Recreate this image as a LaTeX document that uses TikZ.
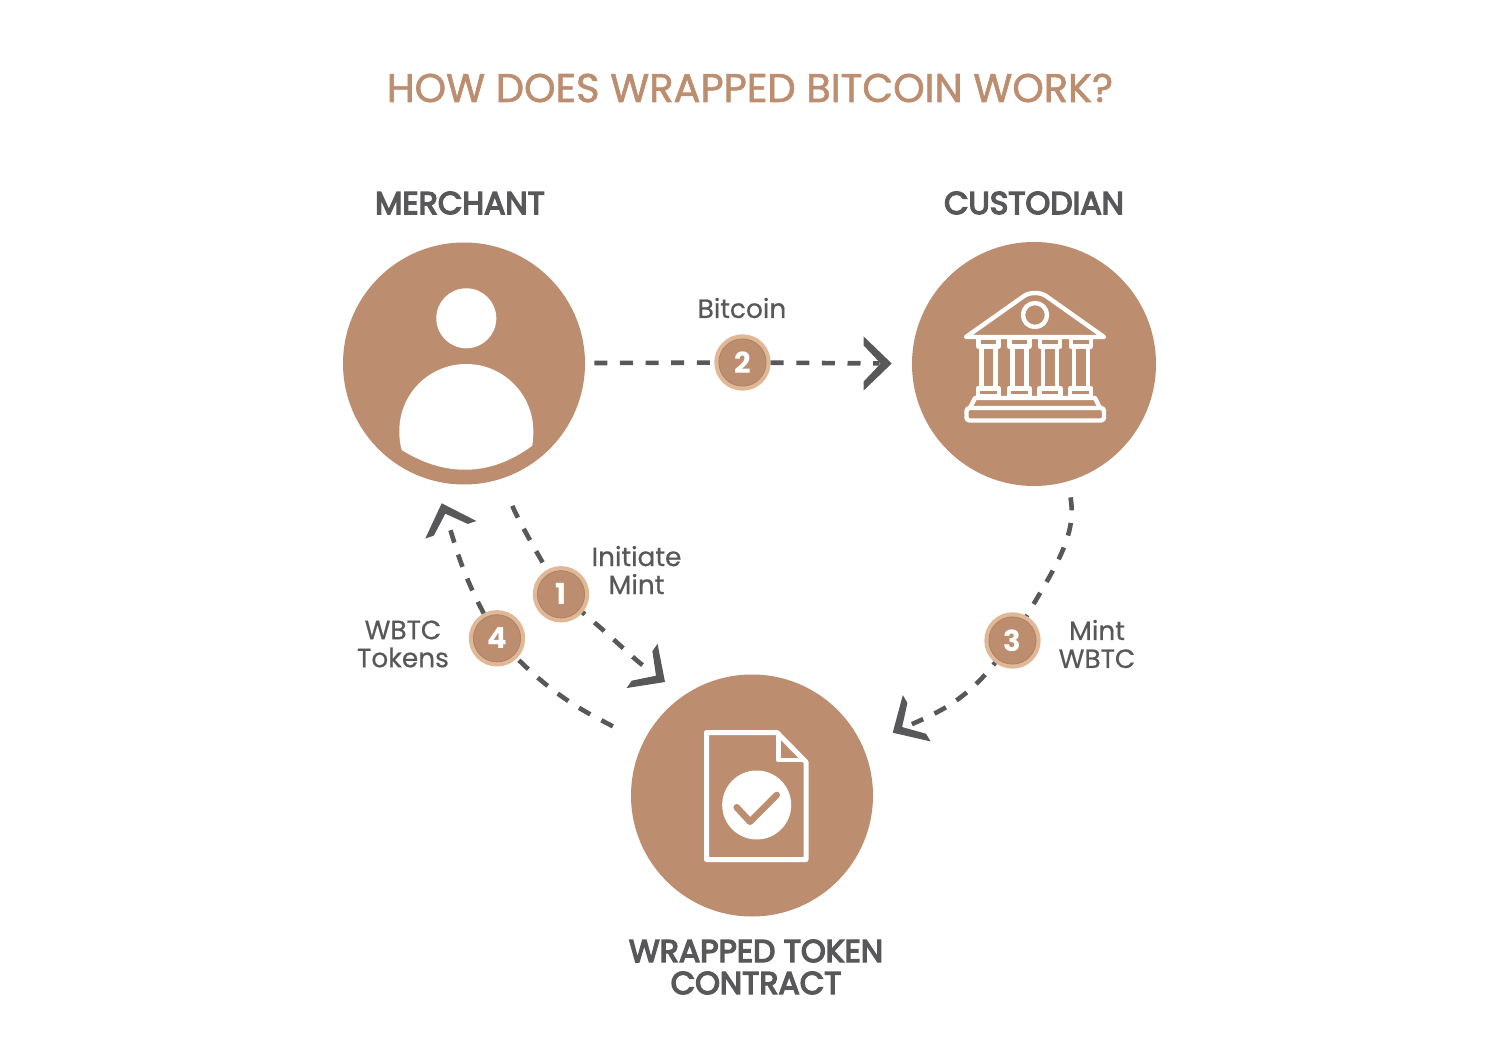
\documentclass[tikz,border=0pt]{standalone}
\usepackage{fontspec}
\setmainfont{Poppins}
\newfontfamily\medfont[FakeBold=0.6]{Poppins}
\newfontfamily\titlefont[FakeBold=1.6]{Poppins}
\newfontfamily\headfont[FakeBold=4.5]{Poppins}
\usetikzlibrary{positioning,calc}
\definecolor{tan}{HTML}{BC8E6F}
\definecolor{lighttan}{HTML}{E0B896}
\definecolor{darktan}{HTML}{AE8263}
\definecolor{slate}{HTML}{58585A}
\begin{document}
\begin{tikzpicture}[x=0.5pt,y=-0.5pt,
  bigcirc/.style={circle,fill=tan,minimum size=121pt,inner sep=0pt},
  badge/.style={circle,fill=tan,draw=lighttan,line width=2.2pt,minimum size=26pt,inner sep=0pt,text=white,font=\bfseries\fontsize{14.5}{15}\selectfont},
  heading/.style={text=slate,align=center,font=\headfont\fontsize{15.8}{16}\selectfont},
  lab/.style={text=slate,align=center,font=\medfont\fontsize{13.2}{14}\selectfont},
  flowline/.style={draw=slate,line width=2.3pt,dash pattern=on 6.5pt off 6.3pt},
  icon/.style={draw=white,line width=2.2pt,line join=round},
  chevron/.pic={\fill[slate] (0,0) -- (-28,-27) -- (-28,-18) -- (-11,0) -- (-28,18) -- (-28,27) -- cycle;}]
\useasboundingbox (0,0) rectangle (1500,1064);
\node[text=tan,font=\titlefont\fontsize{20}{20}\selectfont] (title) at (750,88) {HOW DOES WRAPPED BITCOIN WORK?};
\node[bigcirc] (merchant) at (464,363.5) {};
\node[bigcirc,minimum size=122pt] (custodian) at (1034,364) {};
\node[bigcirc] (contract) at (752,795.5) {};
\node[heading] (merchantlab) at (460,203) {MERCHANT};
\node[heading] (custodianlab) at (1034,203) {CUSTODIAN};
\node[heading] (contractlab) at (756,967) {WRAPPED TOKEN\\CONTRACT};
\node[badge] (one) at (561,594.3) {1};
\node[badge] (two) at (742.5,362.5) {2};
\node[badge] (three) at (1012.5,640.5) {3};
\node[badge] (four) at (497,638.3) {4};
\foreach \b in {one,two,three,four}
  \draw[darktan,line width=0.4pt] (\b) circle[radius=23.6];
\node[lab] (onelab) at (636.5,570) {Initiate\\Mint};
\node[lab] (twolab) at (742,308) {Bitcoin};
\node[lab] (threelab) at (1097,644) {Mint\\WBTC};
\node[lab] (fourlab) at (403,644) {WBTC\\Tokens};
\coordinate (tipone) at (665,682);
\coordinate (tiptwo) at (891.7,363.5);
\coordinate (tipthree) at (892.7,732.7);
\coordinate (tipfour) at (441.7,503.3);
\draw[flowline,shorten <=14.5pt] (merchant.-72) to[out=-68,in=120] (one);
\draw[flowline,dash phase=5pt,shorten >=14pt] (one) to[out=-40,in=143] (tipone);
\draw[flowline,shorten <=4.5pt] (merchant) -- (two);
\draw[flowline,shorten >=6pt] (two) -- (tiptwo);
\draw[flowline,shorten <=8pt] (custodian.-74) to[out=-80,in=60] (three);
\draw[flowline,dash phase=5pt,shorten >=10.5pt] (three) to[out=-128,in=24] (tipthree);
\draw[flowline,shorten <=17pt] (contract.154) to[out=152,in=-45] (four);
\draw[flowline,shorten >=14pt] (four) to[out=118,in=-72] (tipfour);
\pic[rotate=-35] at (tipone) {chevron};
\pic at (tiptwo) {chevron};
\pic[rotate=211] at (tipthree) {chevron};
\pic[rotate=109] at (tipfour) {chevron};
\fill[white] (466.3,318.3) circle[radius=30];
\fill[white] (401.7,450) .. controls (445,477) and (490,477) .. (532.3,445.7) .. controls (533,441) and (533.3,436) .. (533.3,431) .. controls (533.3,394) and (503,364) .. (466.3,364) .. controls (429,364) and (399.3,394) .. (399.3,431) .. controls (399.3,438) and (400,444) .. (401.7,450) -- cycle;
\draw[icon] (966,337) -- (1024,296) .. controls (1030,292) and (1040,292) .. (1046,296) -- (1104,337) -- cycle;
\draw[icon] (1035,315) circle[radius=12];
\foreach \c in {988.3,1019.3,1050,1080.7}{
  \draw[icon] (\c-10,338) rectangle (\c+10,346.5);
  \draw[icon] (\c-7,346.5) -- (\c-7,388.5) (\c+7,346.5) -- (\c+7,388.5);
  \draw[icon] (\c-10.5,388.5) rectangle (\c+10.5,396.5);
}
\draw[icon] (970,408) -- (975,398) -- (1095,398) -- (1100,408);
\draw[icon,rounded corners=1.5pt] (966.5,408) rectangle (1104,420.5);
\draw[icon,line width=2.5pt] (706.5,732.5) -- (777,732.5) -- (806,762) -- (806,859.5) -- (706.5,859.5) -- cycle;
\draw[icon] (778.3,733) -- (778.3,760) -- (805,760);
\fill[white] (756.7,805) circle[radius=34.5];
\draw[draw=tan,line width=3.3pt,line cap=round,line join=round] (736.7,807.3) -- (750,821.7) -- (776.7,795);
\end{tikzpicture}
\end{document}
